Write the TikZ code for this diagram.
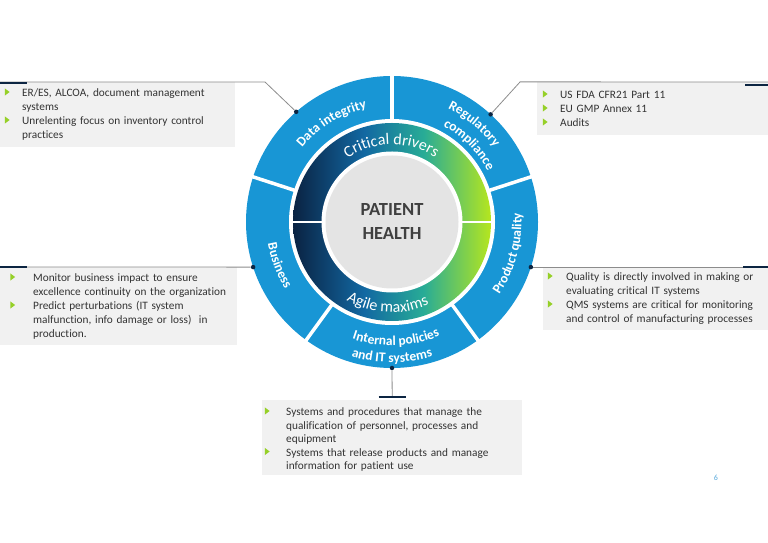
\documentclass[tikz,border=0pt]{standalone}
\usepackage{fontspec}
\setmainfont{Carlito}[Ligatures=NoCommon]
\usetikzlibrary{decorations.text,calc}
\definecolor{ringblue}{RGB}{24,150,213}
\definecolor{navy}{RGB}{12,37,66}
\definecolor{gradnavy}{RGB}{10,34,66}
\definecolor{gradblue}{RGB}{18,104,162}
\definecolor{gradteal}{RGB}{40,172,150}
\definecolor{gradlime}{RGB}{182,230,30}
\definecolor{boxgray}{RGB}{241,241,241}
\definecolor{centergray}{RGB}{228,228,228}
\definecolor{centertext}{RGB}{64,64,64}
\definecolor{linegray}{RGB}{140,140,140}
\definecolor{bulletgreen}{RGB}{150,208,40}
\definecolor{txt}{RGB}{51,51,51}
\definecolor{pagenum}{RGB}{90,170,220}
\pgfdeclarehorizontalshading{ringgrad}{100bp}{color(0bp)=(gradnavy); color(25bp)=(gradnavy); color(43bp)=(gradblue); color(58bp)=(gradteal); color(75bp)=(gradlime); color(100bp)=(gradlime)}
\newcommand\rlab{\fontsize{13.5}{16}\selectfont\bfseries}
\newcommand\rcrit{\fontsize{16}{19}\selectfont}
\newcommand\ringtext[5]{\path[decorate,decoration={text along path,text align=center,text color=white,text={|#4|#5}}] ($(C)+(#1:#3)$) arc[start angle=#1,end angle=#2,radius=#3];}
\newcommand\bulletat[2]{\fill[bulletgreen] (#1-2.2,#2+3.6) -- (#1+2.6,#2) -- (#1-2.2,#2-3.6) -- cycle;}
\begin{document}
\begin{tikzpicture}[x=1pt,y=1pt,
  conn/.style={draw=linegray, line width=0.8pt},
  navybar/.style={draw=navy, line width=2.8pt},
  dotstyle/.style={circle, fill=navy, inner sep=0pt, minimum size=4.5pt},
  descbox/.style={fill=boxgray, inner sep=0pt, anchor=north west},
  desc/.style={font=\fontsize{11.3}{14}\selectfont, text=txt, align=left, inner sep=0pt, anchor=base west, text width=240pt}]
\useasboundingbox (0,0) rectangle (768,543);
\coordinate (C) at (392,321);

% description boxes
\node[descbox, minimum width=235pt, minimum height=65pt] (b1) at (0,461) {};
\node[descbox, minimum width=231pt, minimum height=53pt] (b2) at (537,461) {};
\node[descbox, minimum width=237pt, minimum height=78pt] (b3) at (0,276) {};
\node[descbox, minimum width=225pt, minimum height=62pt] (b4) at (543,275) {};
\node[descbox, minimum width=260pt, minimum height=75pt] (b5) at (262,143) {};

% ring
\fill[ringblue] (C) circle (146);
\fill[white] (C) circle (103);
\shade[shading=ringgrad] (C) circle (99);
\fill[white] (C) circle (70.5);
\fill[centergray] (C) circle (66.5);
\foreach \a in {18,90,162,234,306}
  \draw[white, line width=3.5pt] ($(C)+(\a:101)$) -- ($(C)+(\a:148)$);
\draw[white, line width=2.5pt] ($(C)+(-101,0)$) -- ($(C)+(-68,0)$);
\draw[white, line width=2.5pt] ($(C)+(68,0)$) -- ($(C)+(101,0)$);

% ring labels
\ringtext{161.5}{81.5}{116.5}{\rlab}{Data integrity}
\ringtext{90}{10}{126.5}{\rlab}{Regulatory}
\ringtext{85}{5}{108.5}{\rlab}{compliance}
\ringtext{-55}{25}{129.5}{\rlab}{Product quality}
\ringtext{161}{241}{126}{\rlab}{Business}
\ringtext{232}{312}{123.5}{\rlab}{Internal policies}
\ringtext{230}{310}{140.5}{\rlab}{and IT systems}
\ringtext{130.5}{50.5}{77.5}{\rcrit}{Critical drivers}
\ringtext{227}{307}{90.5}{\rcrit}{Agile maxims}

\node[font=\fontsize{18.5}{24}\selectfont\bfseries, text=centertext, align=center, inner sep=0pt] (ph) at (C) {PATIENT\\HEALTH};

% dots
\node[dotstyle] (d1) at ($(C)+(131:146)$) {};
\node[dotstyle] (d2) at ($(C)+(47.5:146)$) {};
\node[dotstyle] (d3) at ($(C)+(198:146)$) {};
\node[dotstyle] (d4) at ($(C)+(-18:146)$) {};
\node[dotstyle] (d5) at ($(C)+(270:146)$) {};

% connectors
\draw[conn] (b1.north west) -- ++(265,0) -- (d1);
\draw[conn] (d2) -- ++(29.5,32.5) -- (b2.north east);
\draw[conn] (b3.north west) -- (d3);
\draw[conn] (d4) -- (d4 -| b4.east);
\draw[conn] (d5) -- ($(b5.north)+(0,3)$);

% navy bars
\draw[navybar] ([yshift=-1pt]b1.north west) -- ++(27,0);
\draw[navybar] ([yshift=-3pt]b2.north east) -- ++(-23,0);
\draw[navybar] (b3.north west) -- ++(27,0);
\draw[navybar] ([yshift=1pt]b4.north east) -- ++(-25,0);
\draw[navybar] ($(b5.north)+(-13.5,3)$) -- ++(27,0);

% box 1
\bulletat{7}{451}\bulletat{7}{423}
\node[desc] (t1a) at (22,446) {ER/ES, ALCOA, document management\\systems};
\node[desc] (t1b) at (22,418) {Unrelenting focus on inventory control\\practices};
% box 2
\bulletat{545}{449}\bulletat{545}{435}\bulletat{545}{421}
\node[desc] (t2a) at (560,444) {US FDA CFR21 Part 11};
\node[desc] (t2b) at (560,430) {EU GMP Annex 11};
\node[desc] (t2c) at (560,416) {Audits};
% box 3
\bulletat{12.5}{266}\bulletat{12.5}{238}
\node[desc] (t3a) at (33,261) {Monitor business impact to ensure\\excellence continuity on the organization};
\node[desc] (t3b) at (33,233) {Predict perturbations (IT system\\malfunction, info damage or loss)\ \ in\\production.};
% box 4
\bulletat{550}{267}\bulletat{550}{239}
\node[desc] (t4a) at (566,262) {Quality is directly involved in making or\\evaluating critical IT systems};
\node[desc] (t4b) at (566,234) {QMS systems are critical for monitoring\\and control of manufacturing processes};
% box 5
\bulletat{267}{132}\bulletat{267}{91.5}
\node[desc, font=\fontsize{11.3}{13.5}\selectfont] (t5a) at (286,127) {Systems and procedures that manage the\\qualification of personnel, processes and\\equipment};
\node[desc, font=\fontsize{11.3}{13.5}\selectfont] (t5b) at (286,86.5) {Systems that release products and manage\\information for patient use};

\node[font=\fontsize{8}{9}\selectfont, text=pagenum, inner sep=0pt] (pg) at (716,65) {6};
\end{tikzpicture}
\end{document}
